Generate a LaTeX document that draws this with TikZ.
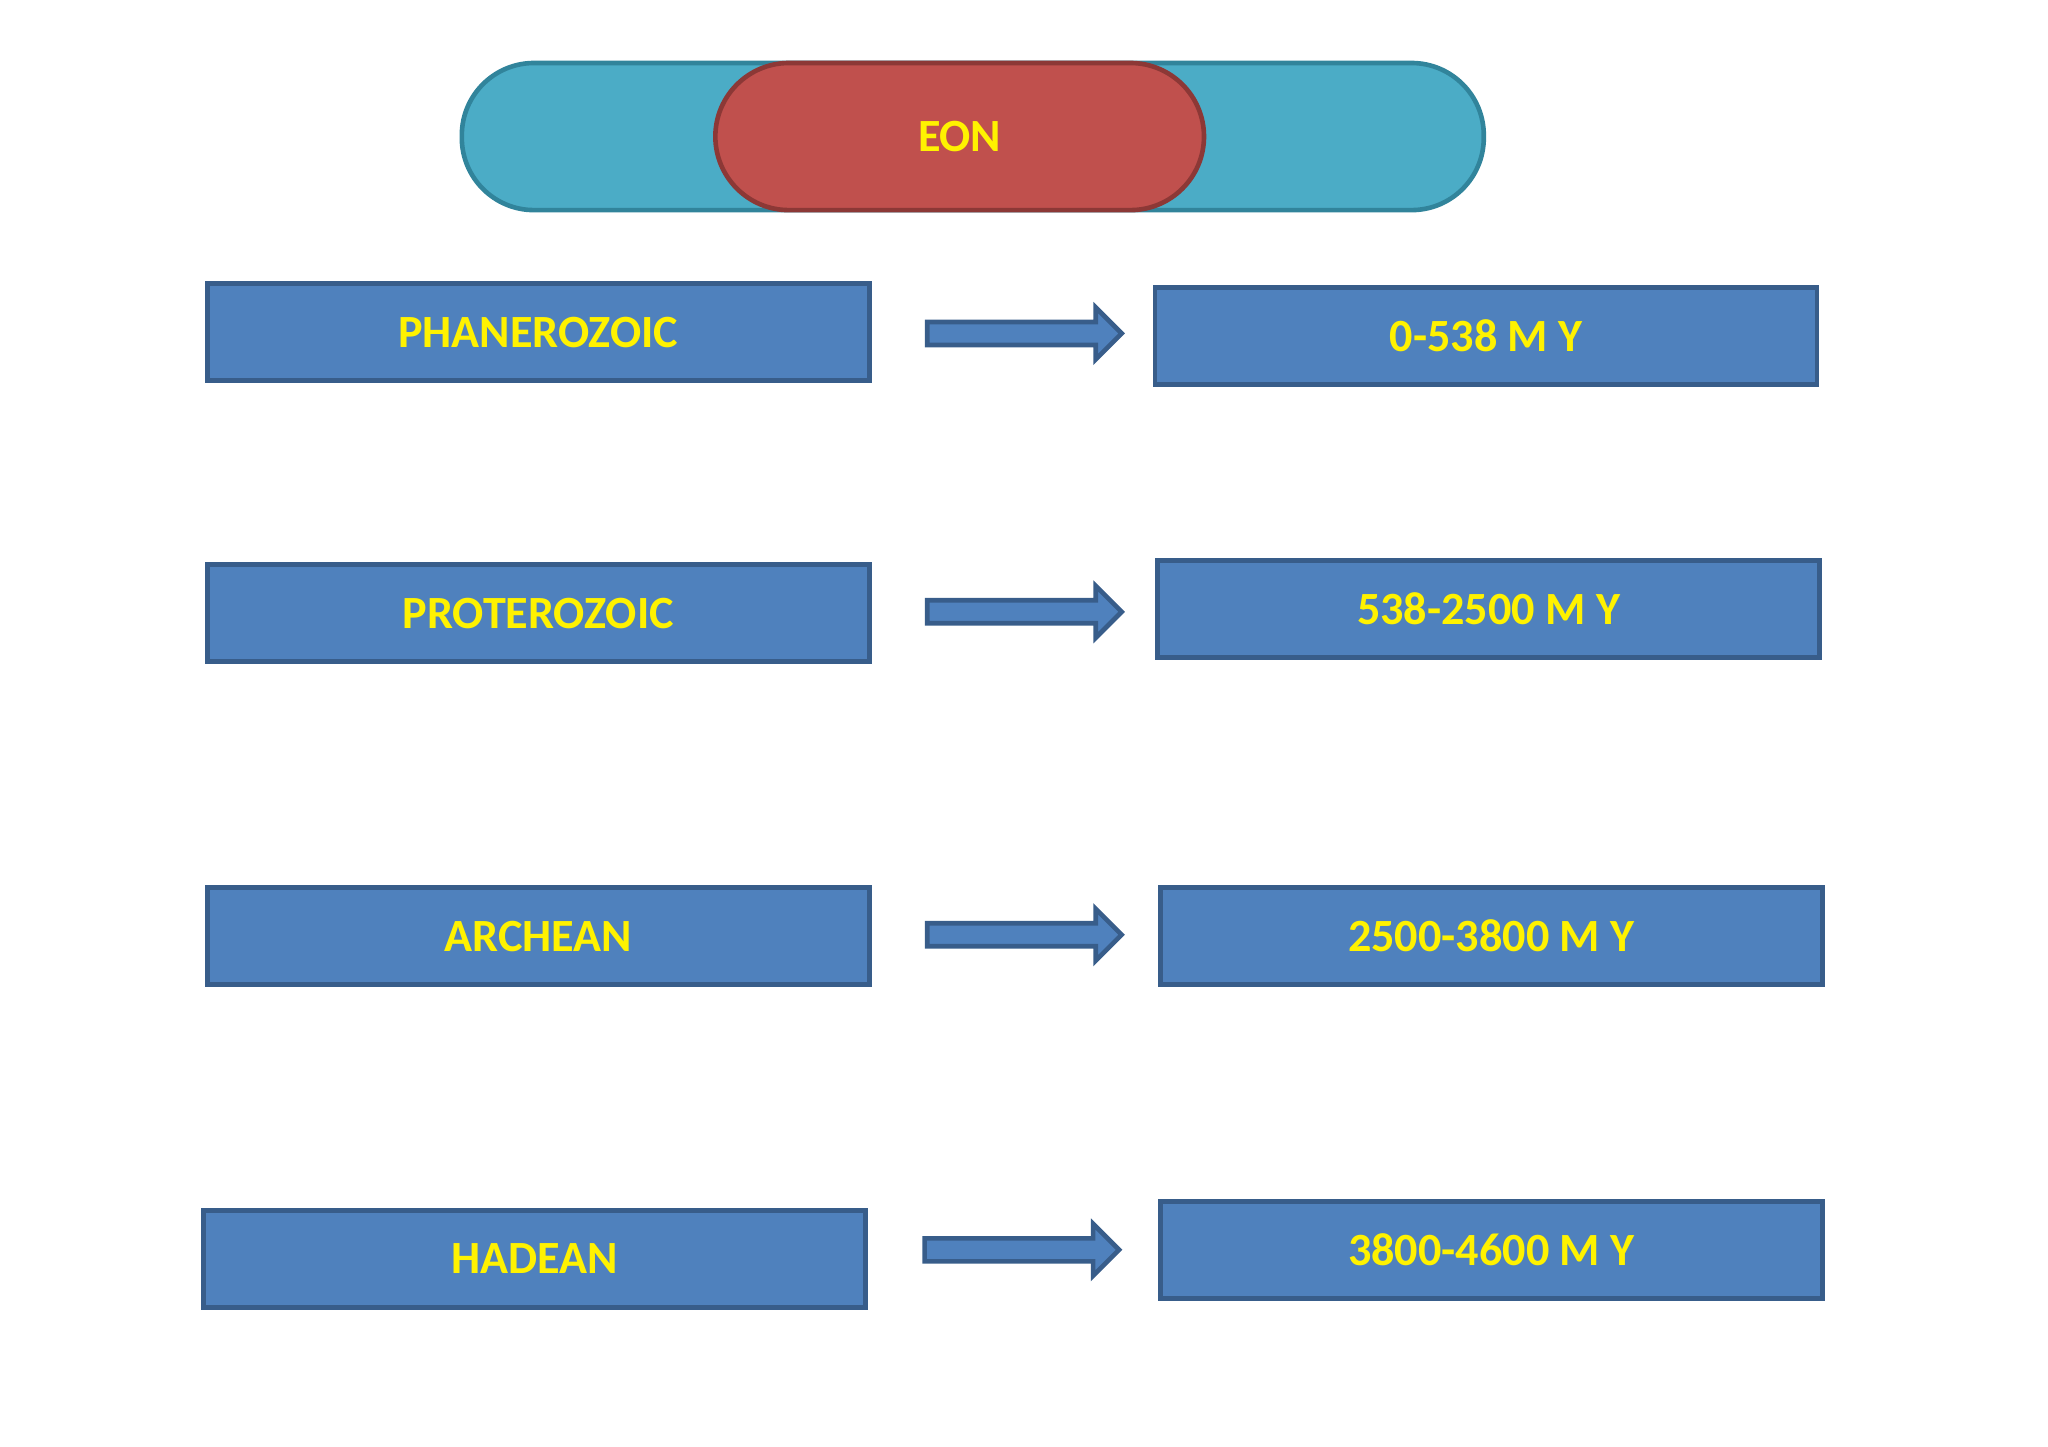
\documentclass[tikz,border=0pt]{standalone}
\usepackage{fontspec}
\setmainfont{Carlito}
\usetikzlibrary{shapes.arrows,positioning}
\definecolor{boxblue}{HTML}{4F81BD}
\definecolor{boxline}{HTML}{385D8A}
\definecolor{eoncyan}{HTML}{4BACC6}
\definecolor{eoncline}{HTML}{31849B}
\definecolor{eonred}{HTML}{C0504D}
\definecolor{eonrline}{HTML}{8C3836}
\tikzset{
  eon/.style  = { draw=boxline, fill=boxblue, line width=1pt, minimum width=5.04cm,
    minimum height=0.74cm, font=\bfseries\fontsize{10}{12}\selectfont, text=yellow },
  goes/.style = { single arrow, draw=boxline, fill=boxblue, line width=1pt,
    minimum height=1.48cm, minimum width=0.36cm, inner sep=0.07cm,
    single arrow head extend=0.11cm }
}
\begin{document}
\begin{tikzpicture}[x=0.01cm,y=-0.01cm]
  \useasboundingbox (0,0) rectangle (1560,1102);
  % eon header
  \node[draw=eoncline, fill=eoncyan, line width=1pt, rounded corners=0.55cm,
    minimum width=7.78cm, minimum height=1.12cm] (band) at (741,104) {};
  \node[draw=eonrline, fill=eonred, line width=1pt, rounded corners=0.56cm,
    minimum width=3.72cm, minimum height=1.12cm, text=yellow,
    font=\bfseries\fontsize{10}{12}\selectfont] (title) at (731,104) {EON};

  \node[eon] (e1) at (410,253) {PHANEROZOIC};
  \node[goes] (a1) at (776,254) {};
  \node[eon] (y1) at (1132,256) {0-538 M Y};

  \node[eon] (e2) at (410,467) {PROTEROZOIC};
  \node[goes] (a2) at (776,466) {};
  \node[eon] (y2) at (1134,464) {538-2500 M Y};

  \node[eon] (e3) at (410,713) {ARCHEAN};
  \node[goes] (a3) at (776,712) {};
  \node[eon] (y3) at (1136,713) {2500-3800 M Y};

  \node[eon] (e4) at (407,959) {HADEAN};
  \node[goes] (a4) at (774,952) {};
  \node[eon] (y4) at (1136,952) {3800-4600 M Y};
\end{tikzpicture}
\end{document}
